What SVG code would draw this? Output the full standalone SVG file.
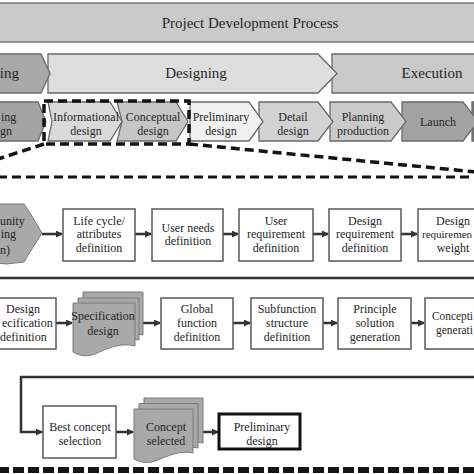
<svg xmlns="http://www.w3.org/2000/svg" width="474" height="474" viewBox="0 0 474 474">
<style>
text{font-family:"Liberation Serif","Times New Roman",serif;fill:#262626;text-anchor:middle}
.t12{font-size:12px}
.t15{font-size:15px}
.st{text-anchor:start}
.en{text-anchor:end}
.ph{stroke:#6a6a6a;stroke-width:1.3}
.box{fill:#fff;stroke:#5a5a5a;stroke-width:1.5}
.doc{fill:#a9a9a9;stroke:#7a7a7a;stroke-width:1}
.dash{fill:none;stroke:#141414;stroke-width:3.5;stroke-dasharray:9 5}
.con{fill:none;stroke:#333;stroke-width:2.5}
</style>
<defs>
<marker id="arr" markerUnits="userSpaceOnUse" markerWidth="7" markerHeight="7" refX="6" refY="3.5" orient="auto">
<path d="M0,0 L7,3.5 L0,7 Z" fill="#333"/>
</marker>
</defs>
<rect width="474" height="474" fill="#fff"/>

<g id="project-development-process">
<rect x="-5" y="3" width="484" height="39" fill="#cacaca" class="ph"/>
<text class="t15" x="250" y="28">Project Development Process</text>
</g>

<g id="phase-execution">
<path class="ph" d="M332,54 H480 V93 H332 Z" fill="#c9c9c9"/>
<text class="t15" x="432" y="78">Execution</text>
</g>
<g id="phase-designing">
<path class="ph" d="M48,54 H318 L337,73.5 L318,93 H48 Z" fill="#dedede"/>
<text class="t15" x="196" y="78">Designing</text>
</g>
<g id="phase-planning">
<path class="ph" d="M-10,54 H41 L50,73.5 L41,93 H-10 Z" fill="#a9a9a9"/>
<text class="t15 en" x="19" y="78">ing</text>
</g>

<g id="step-last">
<path class="ph" d="M472,102 H490 V141 H472 Z" fill="#7a7a7a"/>
</g>
<g id="step-launch">
<path class="ph" d="M402,102 H463 L478,121.5 L463,141 H402 Z" fill="#a3a3a3"/>
<text class="t12" x="438" y="126">Launch</text>
</g>
<g id="step-planning-production">
<path class="ph" d="M330,102 H391 L406,121.5 L391,141 H330 Z" fill="#cbcbcb"/>
<text class="t12" x="363" y="121">Planning</text>
<text class="t12" x="363" y="135">production</text>
</g>
<g id="step-detail-design">
<path class="ph" d="M259,102 H318 L333,121.5 L318,141 H259 Z" fill="#d3d3d3"/>
<text class="t12" x="293" y="121">Detail</text>
<text class="t12" x="293" y="135">design</text>
</g>
<g id="step-preliminary-design">
<path class="ph" d="M190,102 H249 L263,121.5 L249,141 H190 Z" fill="#f0f0f0"/>
<text class="t12" x="221" y="121">Preliminary</text>
<text class="t12" x="221" y="135">design</text>
</g>
<g id="step-conceptual-design">
<path class="ph" d="M117,102 H176 L188,121.5 L176,141 H117 L122,121.5 Z" fill="#c6c6c6"/>
<text class="t12" x="153" y="121">Conceptual</text>
<text class="t12" x="153" y="135">design</text>
</g>
<g id="step-informational-design">
<path class="ph" d="M48,102 H110 L122,121.5 L110,141 H48 L52,121.5 Z" fill="#dadada"/>
<text class="t12" x="86" y="121">Informational</text>
<text class="t12" x="86" y="135">design</text>
</g>
<g id="step-first">
<path class="ph" d="M-10,102 H38 L46,121.5 L38,141 H-10 Z" fill="#a3a3a3"/>
<text class="t12 st" x="1" y="121">ing</text>
<text class="t12 st" x="0" y="135">gn</text>
</g>

<g id="zoom-frame">
<rect class="dash" x="44" y="101" width="145" height="43"/>
<path class="dash" d="M44,144 L-2,159"/>
<path class="dash" d="M189,144 L476,172"/>
<path class="dash" d="M-2,177 H476" style="stroke-width:3"/>
<path class="dash" d="M-2,470 H476" style="stroke-width:6;stroke-dasharray:11 4"/>
</g>

<g id="connectors">
<line class="con" x1="42" y1="234" x2="62" y2="234" marker-end="url(#arr)"/>
<line class="con" x1="135" y1="234" x2="151" y2="234" marker-end="url(#arr)"/>
<line class="con" x1="223" y1="234" x2="238" y2="234" marker-end="url(#arr)"/>
<line class="con" x1="313" y1="234" x2="328" y2="234" marker-end="url(#arr)"/>
<line class="con" x1="401" y1="234" x2="417" y2="234" marker-end="url(#arr)"/>
<line class="con" x1="-5" y1="278" x2="480" y2="278"/>
<line class="con" x1="56" y1="323" x2="72" y2="323" marker-end="url(#arr)"/>
<line class="con" x1="143" y1="323" x2="160" y2="323" marker-end="url(#arr)"/>
<line class="con" x1="233" y1="323" x2="250" y2="323" marker-end="url(#arr)"/>
<line class="con" x1="323" y1="323" x2="337" y2="323" marker-end="url(#arr)"/>
<line class="con" x1="411" y1="323" x2="424" y2="323" marker-end="url(#arr)"/>
<polyline class="con" points="480,377 21,377 21,432 42,432" marker-end="url(#arr)"/>
<line class="con" x1="116" y1="432" x2="133" y2="432" marker-end="url(#arr)"/>
<line class="con" x1="203" y1="432" x2="218" y2="432" marker-end="url(#arr)"/>
</g>

<g id="node-opportunity">
<path d="M-10,204 L24,204 L30,213 L42,233 L30,252 L24,262 L6,264 L-10,262 Z" fill="#a9a9a9" stroke="#7a7a7a" stroke-width="1"/>
<text class="t12 st" x="0" y="225">unity</text>
<text class="t12 en" x="16" y="238">ing</text>
<text class="t12 st" x="0" y="254">n)</text>
</g>
<g id="node-life-cycle">
<rect class="box" x="63" y="209" width="72" height="52"/>
<text class="t12" x="99" y="225">Life cycle/</text>
<text class="t12" x="99" y="238">attributes</text>
<text class="t12" x="99" y="252">definition</text>
</g>
<g id="node-user-needs">
<rect class="box" x="152" y="209" width="71" height="52"/>
<text class="t12" x="188" y="232">User needs</text>
<text class="t12" x="188" y="245">definition</text>
</g>
<g id="node-user-requirement">
<rect class="box" x="239" y="209" width="74" height="52"/>
<text class="t12" x="276" y="225">User</text>
<text class="t12" x="276" y="238">requirement</text>
<text class="t12" x="276" y="252">definition</text>
</g>
<g id="node-design-requirement">
<rect class="box" x="329" y="209" width="72" height="52"/>
<text class="t12" x="365" y="225">Design</text>
<text class="t12" x="365" y="238">requirement</text>
<text class="t12" x="365" y="252">definition</text>
</g>
<g id="node-design-requirement-weight">
<rect class="box" x="418" y="209" width="72" height="52"/>
<text class="t12" x="453" y="225">Design</text>
<text class="st" x="422" y="238" style="font-size:11px">requiremen</text>
<text class="t12" x="453" y="252">weight</text>
</g>

<g id="node-design-specification">
<rect class="box" x="-14" y="298" width="70" height="51"/>
<text class="t12" x="23" y="313">Design</text>
<text class="t12 st" x="2" y="327">ecification</text>
<text class="t12 st" x="0" y="341">definition</text>
</g>
<g id="node-specification-design">
<path class="doc" d="M83,292 H143 V335 C130,332 118,338 105,343 C97,346 90,344 83,341 Z"/>
<path class="doc" d="M78,298 H139 V340 C125,337 113,343 100,348 C92,351 85,349 78,346 Z"/>
<path class="doc" d="M73,303 H135 V346 C120,342 106,349 95,354 C87,357 80,356 73,352 Z"/>
<text class="t12" x="103" y="320">Specification</text>
<text class="t12" x="103" y="335">design</text>
</g>
<g id="node-global-function">
<rect class="box" x="161" y="298" width="72" height="51"/>
<text class="t12" x="197" y="313">Global</text>
<text class="t12" x="197" y="327">function</text>
<text class="t12" x="197" y="341">definition</text>
</g>
<g id="node-subfunction">
<rect class="box" x="251" y="298" width="72" height="51"/>
<text class="t12" x="287" y="313">Subfunction</text>
<text class="t12" x="287" y="327">structure</text>
<text class="t12" x="287" y="341">definition</text>
</g>
<g id="node-principle-solution">
<rect class="box" x="338" y="298" width="73" height="51"/>
<text class="t12" x="375" y="313">Principle</text>
<text class="t12" x="375" y="327">solution</text>
<text class="t12" x="375" y="341">generation</text>
</g>
<g id="node-conception-generation">
<rect class="box" x="425" y="298" width="72" height="51"/>
<text class="t12 st" x="432" y="320" textLength="41" lengthAdjust="spacingAndGlyphs">Concepti</text>
<text class="t12 st" x="436" y="334" textLength="37" lengthAdjust="spacingAndGlyphs">generati</text>
</g>

<g id="node-best-concept">
<rect class="box" x="43" y="406" width="73" height="52"/>
<text class="t12" x="80" y="431">Best concept</text>
<text class="t12" x="80" y="445">selection</text>
</g>
<g id="node-concept-selected">
<path class="doc" d="M144,398 H203 V443 C190,440 178,446 165,451 C157,454 150,452 144,449 Z"/>
<path class="doc" d="M139,403.5 H198 V448 C185,445 173,451 160,456 C152,459 145,457 139,454 Z"/>
<path class="doc" d="M134,409 H193 V453 C180,450 168,456 155,461 C147,464 140,462 134,459 Z"/>
<text class="t12" x="166" y="431">Concept</text>
<text class="t12" x="166" y="445">selected</text>
</g>
<g id="node-preliminary-design">
<rect x="219" y="414" width="81" height="35" fill="#fff"/>
<text class="t12" x="262" y="431">Preliminary</text>
<text class="t12" x="262" y="445">design</text>
<rect x="219" y="414" width="81" height="35" fill="none" stroke="#111" stroke-width="3"/>
</g>
</svg>
